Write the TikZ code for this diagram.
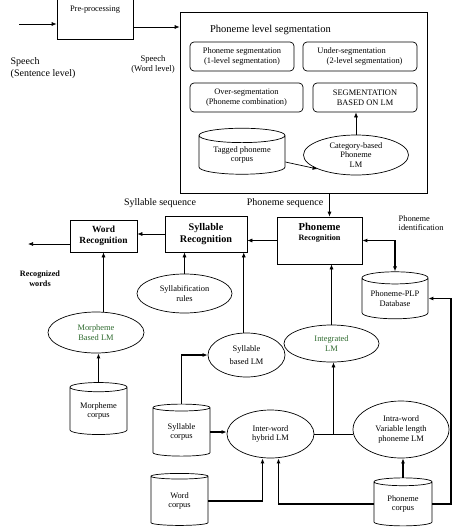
\documentclass[tikz,border=0pt]{standalone}
\usepackage{fontspec}
\setmainfont{Liberation Serif}
\usepackage{xcolor}
\usetikzlibrary{
	arrows.meta,
	shapes.geometric,
	positioning
}
\definecolor{lmgreen}{RGB}{45,105,45}
\tikzstyle{every picture}+=[>={Latex[length=5pt,width=4pt]}]
\tikzset{
	box/.style={draw, line width=0.7pt, inner sep=0pt, align=center},
	rbox/.style={box, rounded corners=4pt},
	oval/.style={ellipse, draw, line width=0.7pt, inner sep=0pt, align=center},
	drum/.style={cylinder, shape border rotate=90, aspect=0.25, draw, line width=0.7pt, inner sep=0pt, align=center},
	lbl/.style={align=center, font=\fontsize{10}{12.5}\selectfont},
	heavy/.style={line width=1.4pt}
}

\begin{document}
\begin{tikzpicture}
	[x=1pt, y=-1pt, font=\fontsize{8.4}{9.6}\selectfont, line width=0.7pt]

	\useasboundingbox (0,0) rectangle (474,528);

	% input side
	\begin{scope}
		\node[box, minimum width=76, minimum height=59] (pre) at (95,9.5) {Pre-processing};
		\coordinate (speechin) at (19,24);
		\draw[->] (speechin) -- (speechin -| pre.west);

		\node[lbl, align=left, anchor=west] (sentence) at (7,68) {Speech\\ (Sentence level)};
		\node[lbl, font=\fontsize{8.6}{10}\selectfont] (wordlevel) at (153,64) {Speech\\(Word level)};
	\end{scope}

	% phoneme level segmentation
	\begin{scope}
		\node[box, minimum width=247, minimum height=181] (seg) at (303.5,102.5) {};
		\draw[->] ([yshift=-17.5pt]pre.east) -- ([yshift=-17.5pt]pre.east -| seg.west);
		\node[font=\fontsize{10.5}{12}\selectfont] (segtitle) at (270.5,30) {Phoneme level segmentation};

		\node[rbox, minimum width=104, minimum height=29] (oneseg) at (242,56.5)
			{Phoneme segmentation\\(1-level segmentation)};
		\node[rbox, minimum width=114, minimum height=29, align=left] (underseg) at (360,56.5)
			{Under-segmentation\\\hspace*{1.1em}(2-level segmentation)};
		\node[rbox, minimum width=113, minimum height=29] (overseg) at (246.5,97.5)
			{Over-segmentation\\(Phoneme combination)};
		\node[rbox, minimum width=104, minimum height=29] (lmseg) at (365,97.5)
			{SEGMENTATION\\BASED ON LM};

		\node[drum, minimum width=86, minimum height=46] (tagged) at (242,155)
			{Tagged phoneme\\corpus};
		\node[oval, minimum width=105, minimum height=40] (catlm) at (356,155)
			{Category-based\\Phoneme\\LM};

		\draw[->] ([yshift=-7pt]tagged.east) -- (catlm.200);
		\draw[->] (catlm.north) -- (catlm.north |- lmseg.south);
	\end{scope}

	% recognition chain
	\begin{scope}
		\node[box, minimum width=85, minimum height=47, text depth=17pt] (phonrec) at (319.5,240.5)
			{\fontsize{10.6}{12}\selectfont\bfseries Phoneme\\\fontsize{8.2}{10}\selectfont\bfseries Recognition};
		\node[box, minimum width=82, minimum height=36, font=\fontsize{10.2}{12}\selectfont\bfseries] (sylrec) at (206,234)
			{Syllable\\Recognition};
		\node[box, minimum width=67, minimum height=32, font=\fontsize{9.4}{11.5}\selectfont\bfseries] (wordrec) at (103.5,236)
			{Word\\Recognition};
		\coordinate (wordsout) at (28,244);

		\draw[->] ([xshift=10pt]phonrec.north |- seg.south) -- ([xshift=10pt]phonrec.north);
		\draw[->] (phonrec.west) -- (phonrec.west -| sylrec.east);
		\draw[->] (sylrec.west) -- (sylrec.west -| wordrec.east);
		\draw[->] ([yshift=-8pt]wordrec.west) -- (wordsout);

		\node[lbl] (sylseq) at (160,203) {Syllable sequence};
		\node[lbl] (phonseq) at (285,203) {Phoneme sequence};
		\node[align=center, font=\fontsize{8.2}{10}\selectfont\bfseries] (recwords) at (40,279)
			{Recognized\\words};
		\node[align=left, anchor=west] (phonid) at (395,223) {Phoneme\\identification};
	\end{scope}

	% language models and corpora
	\begin{scope}
		\node[oval, minimum width=95, minimum height=39] (sylrules) at (184.5,293.5)
			{Syllabification\\rules};
		\node[oval, minimum width=96, minimum height=41, text=lmgreen] (morphlm) at (96,332.5)
			{Morpheme\\Based LM};
		\node[oval, minimum width=77, minimum height=44, font=\fontsize{8.4}{13}\selectfont] (syllm) at (246.5,355)
			{Syllable\\based LM};
		\node[oval, minimum width=95, minimum height=37, text=lmgreen] (intlm) at (331.5,343.5)
			{Integrated\\LM};
		\node[oval, minimum width=87, minimum height=48] (interlm) at (270.5,434)
			{Inter-word\\hybrid LM};
		\node[oval, minimum width=96, minimum height=57] (intralm) at (401,429.5)
			{Intra-word\\Variable length\\phoneme LM};

		\node[drum, minimum width=66, minimum height=47] (plpdb) at (395,298.5)
			{Phoneme-PLP\\Database};
		\node[drum, minimum width=57, minimum height=52] (morphc) at (98.5,411)
			{Morpheme\\corpus};
		\node[drum, minimum width=57, minimum height=52] (sylc) at (181.5,432)
			{Syllable\\corpus};
		\node[drum, minimum width=57, minimum height=52] (wordc) at (179.5,501)
			{Word\\corpus};
		\node[drum, minimum width=58, minimum height=48] (phonc) at (403,504)
			{Phoneme\\corpus};
		\coordinate (rail) at (451,300);

		% thin connectors
		\draw[->] (sylrules.north) -- (sylrules.north |- sylrec.south);
		\draw[->] (morphlm.north -| wordrec.south) -- (wordrec.south);
		\draw[->] (syllm.97) -- (syllm.97 |- sylrec.south);
		\draw[->] (intlm.north) -- (intlm.north |- phonrec.south);
		\draw (interlm.east) -- coordinate (joint) (interlm.east -| intralm.west);
		\draw[->] (joint) -- (joint |- intlm.south);

		% thick connectors
		\begin{scope}[heavy]
			\draw[<->] (phonrec.east) -| (plpdb.north);
			\draw[->] (morphc.north) -- (morphc.north |- morphlm.south);
			\draw[->] (sylc.north) |- (syllm.west);
			\draw[->] (sylc.east) -- (sylc.east -| interlm.west);
			\draw[->] (wordc.east) -| ([xshift=-8pt]interlm.south);
			\draw[->] (phonc.west) -| ([xshift=8pt]interlm.south);
			\draw[->] (phonc.north) -- (phonc.north |- intralm.south);
			\draw[->] (phonc.east) -- (phonc.east -| rail) |- (plpdb.east);
		\end{scope}
	\end{scope}

\end{tikzpicture}
\end{document}
